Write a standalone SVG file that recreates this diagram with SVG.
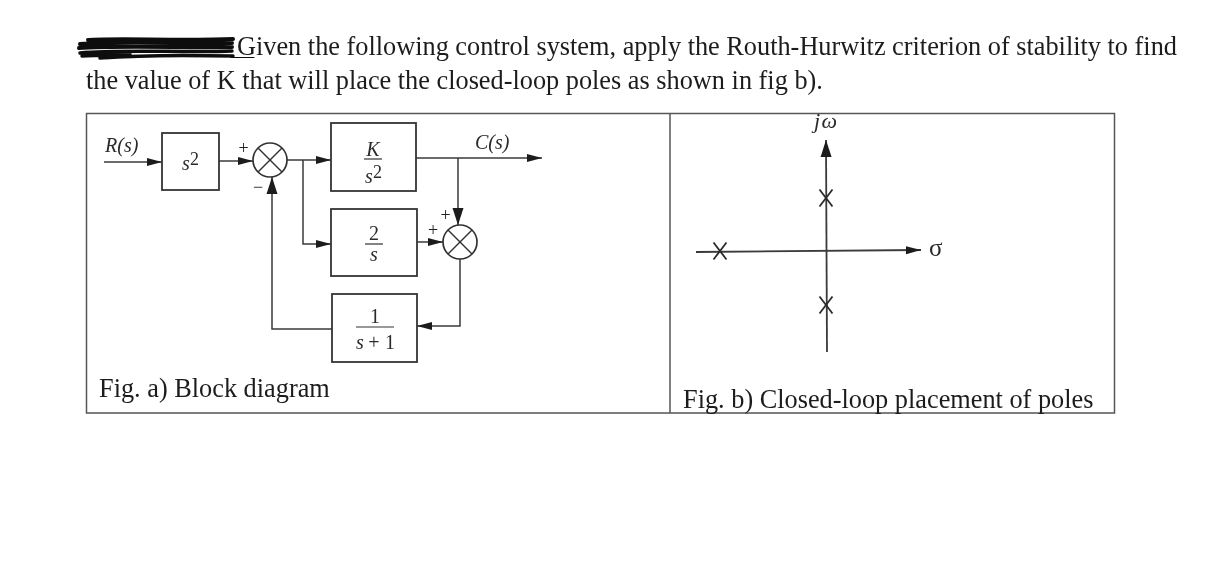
<svg xmlns="http://www.w3.org/2000/svg" width="1232" height="568" viewBox="0 0 1232 568">
<style>
text{font-family:"Liberation Serif","Times New Roman",serif;fill:#1c1c1c}
.body{font-size:26.3px}
.it{font-style:italic;font-size:20px;fill:#2a2a2a}
.sm{font-size:20px;fill:#2a2a2a}
.sup{font-size:18px;fill:#2a2a2a}
.jw{font-style:italic;font-size:22px;letter-spacing:1.500px;fill:#2a2a2a}
.sg{font-size:25px;fill:#2a2a2a}
.pm{font-size:18px;fill:#222}
.frame{fill:none;stroke:#555;stroke-width:1.5}
.box{fill:#fff;stroke:#333;stroke-width:1.800}
.ln{fill:none;stroke:#3a3a3a;stroke-width:1.500}
.ax{fill:none;stroke:#3a3a3a;stroke-width:1.800}
.bar{stroke:#333;stroke-width:1.200}
.sum{fill:#fff;stroke:#333;stroke-width:1.700}
.ink{fill:none;stroke:#111;stroke-linecap:round}
</style>
<defs>
<filter id="soft" x="-2%" y="-2%" width="104%" height="104%"><feGaussianBlur stdDeviation="0.4"/></filter>
<marker id="arr" markerUnits="userSpaceOnUse" markerWidth="16" markerHeight="10" refX="15" refY="5" orient="auto"><polygon points="0,1 15,5 0,9" fill="#1c1c1c"/></marker>
<marker id="arrv" markerUnits="userSpaceOnUse" markerWidth="18" markerHeight="12" refX="17" refY="6" orient="auto"><polygon points="0,0.500 17,6 0,11.500" fill="#1c1c1c"/></marker>
<g id="cross"><line x1="-12" y1="-12" x2="12" y2="12"/><line x1="-12" y1="12" x2="12" y2="-12"/></g>
<g id="pole"><line x1="-6.500" y1="-8.500" x2="6.500" y2="8.500"/><line x1="-6.500" y1="8.500" x2="6.500" y2="-8.500"/></g>
</defs>
<rect width="1232" height="568" fill="#fff"/>

<g filter="url(#soft)">
<g id="question">
<g id="scribble" class="ink">
<path d="M88 40 C120 38 180 41 233 39M80 44 C120 41 190 44 232 43M79 48 C120 45 190 48 232 47" stroke-width="4"/>
<path d="M80 53 C120 49 190 53 232 51M100 58 C140 55 190 55 233 56M82 56 L130 54" stroke-width="3.500"/>
<path d="M231 57.500 L254 57.500" stroke-width="1.200"/>
</g>
<text class="body" x="237" y="55">Given the following control system, apply the Routh-Hurwitz criterion of stability to find</text>
<text class="body" x="86" y="89">the value of K that will place the closed-loop poles as shown in fig b).</text>
</g>

<g id="frames">
<rect class="frame" x="86.500" y="113.500" width="1028" height="299.500"/>
<line class="frame" x1="670" y1="113.500" x2="670" y2="413"/>
</g>

<g id="connectors">
<path class="ln" marker-end="url(#arr)" d="M104 162H162"/>
<path class="ln" marker-end="url(#arr)" d="M219 161H253"/>
<path class="ln" marker-end="url(#arr)" d="M287 160H331"/>
<path class="ln" marker-end="url(#arr)" d="M303 160V244H331"/>
<path class="ln" marker-end="url(#arr)" d="M416 158H542"/>
<path class="ln" marker-end="url(#arrv)" d="M458 158V225"/>
<path class="ln" marker-end="url(#arr)" d="M417 242H443"/>
<path class="ln" marker-end="url(#arr)" d="M460 259V326H417"/>
<path class="ln" marker-end="url(#arrv)" d="M332 329H272V177"/>
<path class="ax" marker-end="url(#arrv)" d="M827 352L826 140"/>
<path class="ax" marker-end="url(#arr)" d="M696 252L921 250"/>
</g>

<g id="node-rs"><text class="it" x="105" y="152">R(s)</text></g>
<g id="node-s2">
<rect class="box" x="162" y="133" width="57" height="57"/>
<text class="it" x="182" y="170">s</text><text class="sup" x="190" y="165">2</text>
</g>
<g id="node-sum1">
<circle class="sum" cx="270" cy="160" r="17"/>
<use href="#cross" x="270" y="160" stroke="#333" stroke-width="1.500"/>
<text class="pm" x="243.500" y="154" text-anchor="middle">+</text>
<text class="pm" x="258" y="193" text-anchor="middle">−</text>
</g>
<g id="node-k">
<rect class="box" x="331" y="123" width="85" height="68"/>
<text class="it" x="373" y="156" text-anchor="middle">K</text>
<line class="bar" x1="364" y1="159" x2="382" y2="159"/>
<text class="it" x="365" y="183">s</text><text class="sup" x="373" y="178">2</text>
</g>
<g id="node-cs"><text class="it" x="475" y="149">C(s)</text></g>
<g id="node-2s">
<rect class="box" x="331" y="209" width="86" height="67"/>
<text class="sm" x="374" y="240" text-anchor="middle">2</text>
<line class="bar" x1="365" y1="244" x2="383" y2="244"/>
<text class="it" x="374" y="261" text-anchor="middle">s</text>
</g>
<g id="node-sum2">
<circle class="sum" cx="460" cy="242" r="17"/>
<use href="#cross" x="460" y="242" stroke="#333" stroke-width="1.500"/>
<text class="pm" x="445.500" y="221" text-anchor="middle">+</text>
<text class="pm" x="433" y="236" text-anchor="middle">+</text>
</g>
<g id="node-1s1">
<rect class="box" x="332" y="294" width="85" height="68"/>
<text class="sm" x="375" y="323" text-anchor="middle">1</text>
<line class="bar" x1="356" y1="327" x2="394" y2="327"/>
<text class="it" x="356" y="349">s</text><text class="sm" x="374" y="349" text-anchor="middle">+</text><text class="sm" x="390" y="349" text-anchor="middle">1</text>
</g>

<g id="caption-a"><text class="body" x="99" y="397">Fig. a) Block diagram</text></g>

<g id="poles" fill="none" stroke="#2a2a2a" stroke-width="1.800">
<use href="#pole" x="826" y="198"/>
<use href="#pole" x="826" y="305"/>
<use href="#pole" x="720" y="251"/>
</g>
<g id="node-jw"><text class="jw" x="814" y="128">jω</text></g>
<g id="node-sigma"><text class="sg" x="929" y="256">σ</text></g>
<g id="caption-b"><text class="body" x="683" y="408">Fig. b) Closed-loop placement of poles</text></g>
</g>
</svg>
